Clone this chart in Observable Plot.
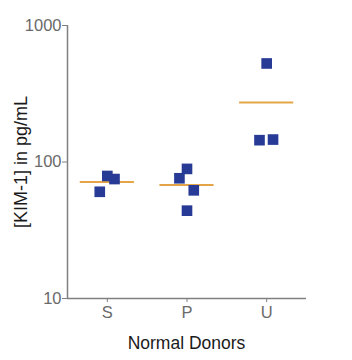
<!DOCTYPE html>
<html>
<head>
<meta charset="utf-8">
<script src="https://cdn.jsdelivr.net/npm/d3@7"></script>
<script src="https://cdn.jsdelivr.net/npm/@observablehq/plot@0.6"></script>
<style>
  html, body { margin: 0; padding: 0; background: #fff; }
  svg { font-family: "Liberation Sans", Arial, sans-serif; }
</style>
</head>
<body>
<div id="chart"></div>
<script>
const categories = ["S", "P", "U"];
const groups  = ["S", "S", "S", "P", "P", "P", "P", "U", "U", "U"];
const values  = [79, 75, 60.5, 76, 89, 62, 44, 527, 144.5, 146];
const offsets = [0, 0.09, -0.095, -0.095, 0, 0.085, 0, 0, -0.09, 0.08];
const yTicks = [10, 100, 1000];
const yTitle = "[KIM-1] in pg/mL";
const xTitle = "Normal Donors";

const points = groups.map((g, i) => ({
  x: categories.indexOf(g) + offsets[i],
  y: values[i]
}));
const means = categories.map((c, i) => ({
  x1: i - 0.34,
  x2: i + 0.34,
  y: d3.mean(values.filter((v, j) => groups[j] === c))
}));

const chart = Plot.plot({
  width: 352,
  height: 360,
  marginLeft: 67,
  marginRight: 46,
  marginTop: 25,
  marginBottom: 62,
  x: {type: "linear", domain: [-0.5, 2.5], axis: null},
  y: {type: "log", domain: [10, 1000], axis: null},
  marks: [
    Plot.ruleY([10], {stroke: "#808080", strokeWidth: 1.5}),
    Plot.ruleX([-0.5], {stroke: "#808080", strokeWidth: 1.5}),
    Plot.axisY({
      ticks: yTicks, tickSize: 5, tickFormat: d => String(d),
      stroke: "#808080", fill: "#6a6a6a", fontSize: 16.5, tickPadding: 1,
      label: null
    }),
    Plot.axisX({
      ticks: [0, 1, 2], tickSize: 4, tickFormat: i => categories[i],
      stroke: "#808080", fill: "#6a6a6a", fontSize: 16.5, tickPadding: 4,
      label: null
    }),
    Plot.ruleY(means, {x1: "x1", x2: "x2", y: "y", stroke: "#e3a547", strokeWidth: 2}),
    Plot.dot(points, {x: "x", y: "y", symbol: "square", r: 6, fill: "#263a96", stroke: "none"})
  ]
});
const ns = "http://www.w3.org/2000/svg";
const yt = document.createElementNS(ns, "text");
yt.setAttribute("transform", "translate(21,162) rotate(-90)");
yt.setAttribute("text-anchor", "middle");
yt.setAttribute("dominant-baseline", "central");
yt.setAttribute("fill", "#1a1a1a");
yt.setAttribute("font-size", "18");
yt.textContent = yTitle;
chart.appendChild(yt);
const xt = document.createElementNS(ns, "text");
xt.setAttribute("x", (67 + 306) / 2);
xt.setAttribute("y", 349);
xt.setAttribute("text-anchor", "middle");
xt.setAttribute("fill", "#1a1a1a");
xt.setAttribute("font-size", "17.5");
xt.textContent = xTitle;
chart.appendChild(xt);
document.getElementById("chart").appendChild(chart);
</script>
</body>
</html>
